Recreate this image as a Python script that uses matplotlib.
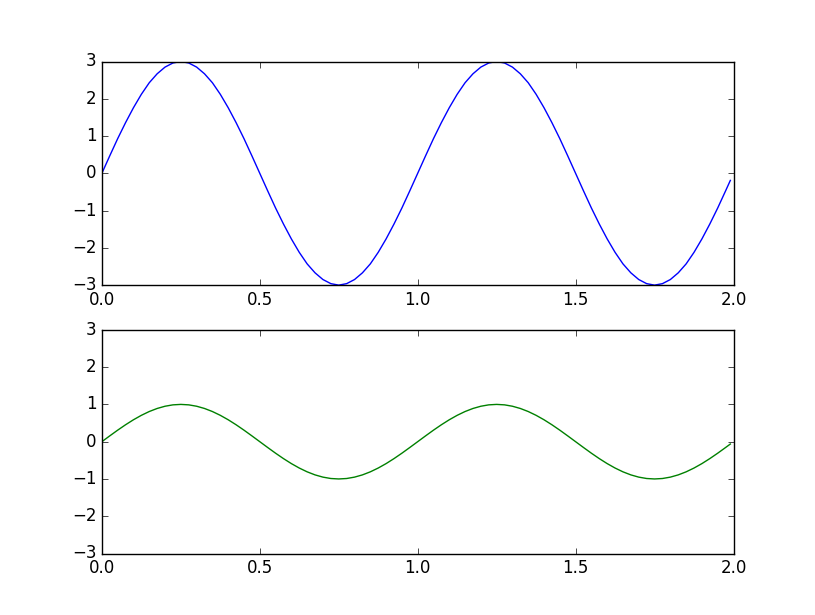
import matplotlib
matplotlib.use("Agg")
import matplotlib.pyplot as plt

plt.style.use('classic')

# time samples (s)
t = [0.000, 0.025, 0.050, 0.075, 0.100, 0.125, 0.150, 0.175, 0.200, 0.225,
     0.250, 0.275, 0.300, 0.325, 0.350, 0.375, 0.400, 0.425, 0.450, 0.475,
     0.500, 0.525, 0.550, 0.575, 0.600, 0.625, 0.650, 0.675, 0.700, 0.725,
     0.750, 0.775, 0.800, 0.825, 0.850, 0.875, 0.900, 0.925, 0.950, 0.975,
     1.000, 1.025, 1.050, 1.075, 1.100, 1.125, 1.150, 1.175, 1.200, 1.225,
     1.250, 1.275, 1.300, 1.325, 1.350, 1.375, 1.400, 1.425, 1.450, 1.475,
     1.500, 1.525, 1.550, 1.575, 1.600, 1.625, 1.650, 1.675, 1.700, 1.725,
     1.750, 1.775, 1.800, 1.825, 1.850, 1.875, 1.900, 1.925, 1.950, 1.975,
     1.990]

# top panel series (blue)
top_values = [0.00, 0.47, 0.93, 1.36, 1.76, 2.12, 2.43, 2.67, 2.85, 2.96,
              3.00, 2.96, 2.85, 2.67, 2.43, 2.12, 1.76, 1.36, 0.93, 0.47,
              0.00, -0.47, -0.93, -1.36, -1.76, -2.12, -2.43, -2.67, -2.85, -2.96,
              -3.00, -2.96, -2.85, -2.67, -2.43, -2.12, -1.76, -1.36, -0.93, -0.47,
              0.00, 0.47, 0.93, 1.36, 1.76, 2.12, 2.43, 2.67, 2.85, 2.96,
              3.00, 2.96, 2.85, 2.67, 2.43, 2.12, 1.76, 1.36, 0.93, 0.47,
              0.00, -0.47, -0.93, -1.36, -1.76, -2.12, -2.43, -2.67, -2.85, -2.96,
              -3.00, -2.96, -2.85, -2.67, -2.43, -2.12, -1.76, -1.36, -0.93, -0.47,
              -0.19]

# bottom panel series (green)
bottom_values = [0.000, 0.156, 0.309, 0.454, 0.588, 0.707, 0.809, 0.891, 0.951, 0.988,
                 1.000, 0.988, 0.951, 0.891, 0.809, 0.707, 0.588, 0.454, 0.309, 0.156,
                 0.000, -0.156, -0.309, -0.454, -0.588, -0.707, -0.809, -0.891, -0.951, -0.988,
                 -1.000, -0.988, -0.951, -0.891, -0.809, -0.707, -0.588, -0.454, -0.309, -0.156,
                 0.000, 0.156, 0.309, 0.454, 0.588, 0.707, 0.809, 0.891, 0.951, 0.988,
                 1.000, 0.988, 0.951, 0.891, 0.809, 0.707, 0.588, 0.454, 0.309, 0.156,
                 0.000, -0.156, -0.309, -0.454, -0.588, -0.707, -0.809, -0.891, -0.951, -0.988,
                 -1.000, -0.988, -0.951, -0.891, -0.809, -0.707, -0.588, -0.454, -0.309, -0.156,
                 -0.063]

x_ticks = [0.0, 0.5, 1.0, 1.5, 2.0]
y_ticks = [-3, -2, -1, 0, 1, 2, 3]

fig = plt.figure(figsize=(8.15, 6.15), dpi=100)
fig.subplots_adjust(left=0.125, right=0.9, bottom=0.1, top=0.9, hspace=0.2)

ax1 = fig.add_subplot(2, 1, 1)
ax1.plot(t, top_values, color='b', linewidth=1.0)
ax1.set_xlim(0, 2)
ax1.set_ylim(-3, 3)
ax1.set_xticks(x_ticks)
ax1.set_yticks(y_ticks)

ax2 = fig.add_subplot(2, 1, 2)
ax2.plot(t, bottom_values, color='g', linewidth=1.0)
ax2.set_xlim(0, 2)
ax2.set_ylim(-3, 3)
ax2.set_xticks(x_ticks)
ax2.set_yticks(y_ticks)

fig.savefig("out.png", dpi=100, facecolor='white')
